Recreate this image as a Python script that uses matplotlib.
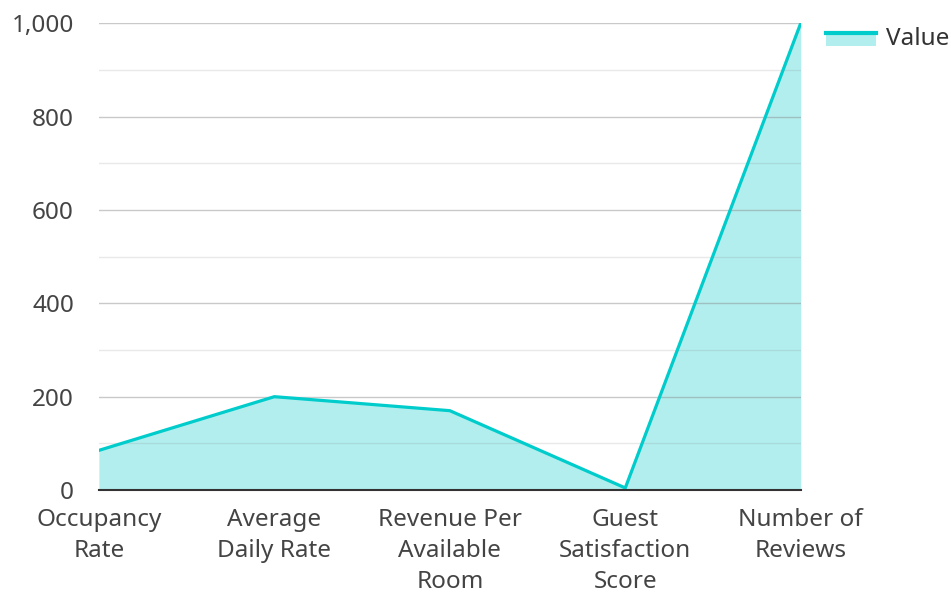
import matplotlib.pyplot as plt
from matplotlib.patches import Rectangle
from matplotlib.lines import Line2D
from matplotlib.ticker import MultipleLocator, FuncFormatter

plt.rcParams['font.family'] = ['Noto Sans', 'DejaVu Sans']

categories = ['Occupancy\nRate', 'Average\nDaily Rate', 'Revenue Per\nAvailable\nRoom',
              'Guest\nSatisfaction\nScore', 'Number of\nReviews']
values = [85, 200, 170, 4.5, 1000]

line_color = '#00CCCC'
fill_color = '#B2EEEE'


class AreaHandler:
    # legend key: line on top with the filled band under it
    def legend_artist(self, legend, orig_handle, fontsize, handlebox):
        x0, y0 = handlebox.xdescent, handlebox.ydescent
        w, h = handlebox.width, handlebox.height
        top = y0 + h * 0.7
        rect = Rectangle((x0, top - h * 0.8), w, h * 0.8, facecolor=fill_color,
                         edgecolor='none', transform=handlebox.get_transform())
        line = Line2D([x0, x0 + w], [top, top], color=line_color, linewidth=3,
                      transform=handlebox.get_transform())
        handlebox.add_artist(rect)
        handlebox.add_artist(line)
        return rect


fig = plt.figure(figsize=(9.51, 5.94), dpi=100)
ax = fig.add_axes([0.104, 0.175, 0.738, 0.786])

x = list(range(len(categories)))
ax.fill_between(x, values, 0, color=fill_color, zorder=1, linewidth=0)
area_line, = ax.plot(x, values, color=line_color, linewidth=2.3, zorder=3)

ax.set_xlim(0, len(categories) - 1)
ax.set_ylim(0, 1000)
ax.yaxis.set_major_locator(MultipleLocator(200))
ax.yaxis.set_minor_locator(MultipleLocator(100))
ax.yaxis.set_major_formatter(FuncFormatter(lambda v, p: f'{int(v):,}'))
ax.grid(axis='y', which='major', color='#888888', alpha=0.45, linewidth=1, zorder=2)
ax.grid(axis='y', which='minor', color='#888888', alpha=0.18, linewidth=1, zorder=2)
ax.set_axisbelow(False)

ax.set_xticks(x)
ax.set_xticklabels(categories, linespacing=1.38)
ax.tick_params(axis='both', which='both', length=0, labelsize=17.5, colors='#444444')
ax.tick_params(axis='x', pad=13)
ax.tick_params(axis='y', pad=18)

for s in ['top', 'right', 'left']:
    ax.spines[s].set_visible(False)
ax.spines['bottom'].set_color('#333333')
ax.spines['bottom'].set_linewidth(1.5)
ax.spines['bottom'].set_zorder(4)

fig.legend([area_line], ['Value'], loc='upper left', bbox_to_anchor=(0.869, 0.955),
           frameon=False, fontsize=17.5, labelcolor='#333333', handlelength=2.05,
           handletextpad=0.4, borderpad=0, borderaxespad=0,
           handler_map={area_line: AreaHandler()})

fig.savefig('out.png', dpi=100)
